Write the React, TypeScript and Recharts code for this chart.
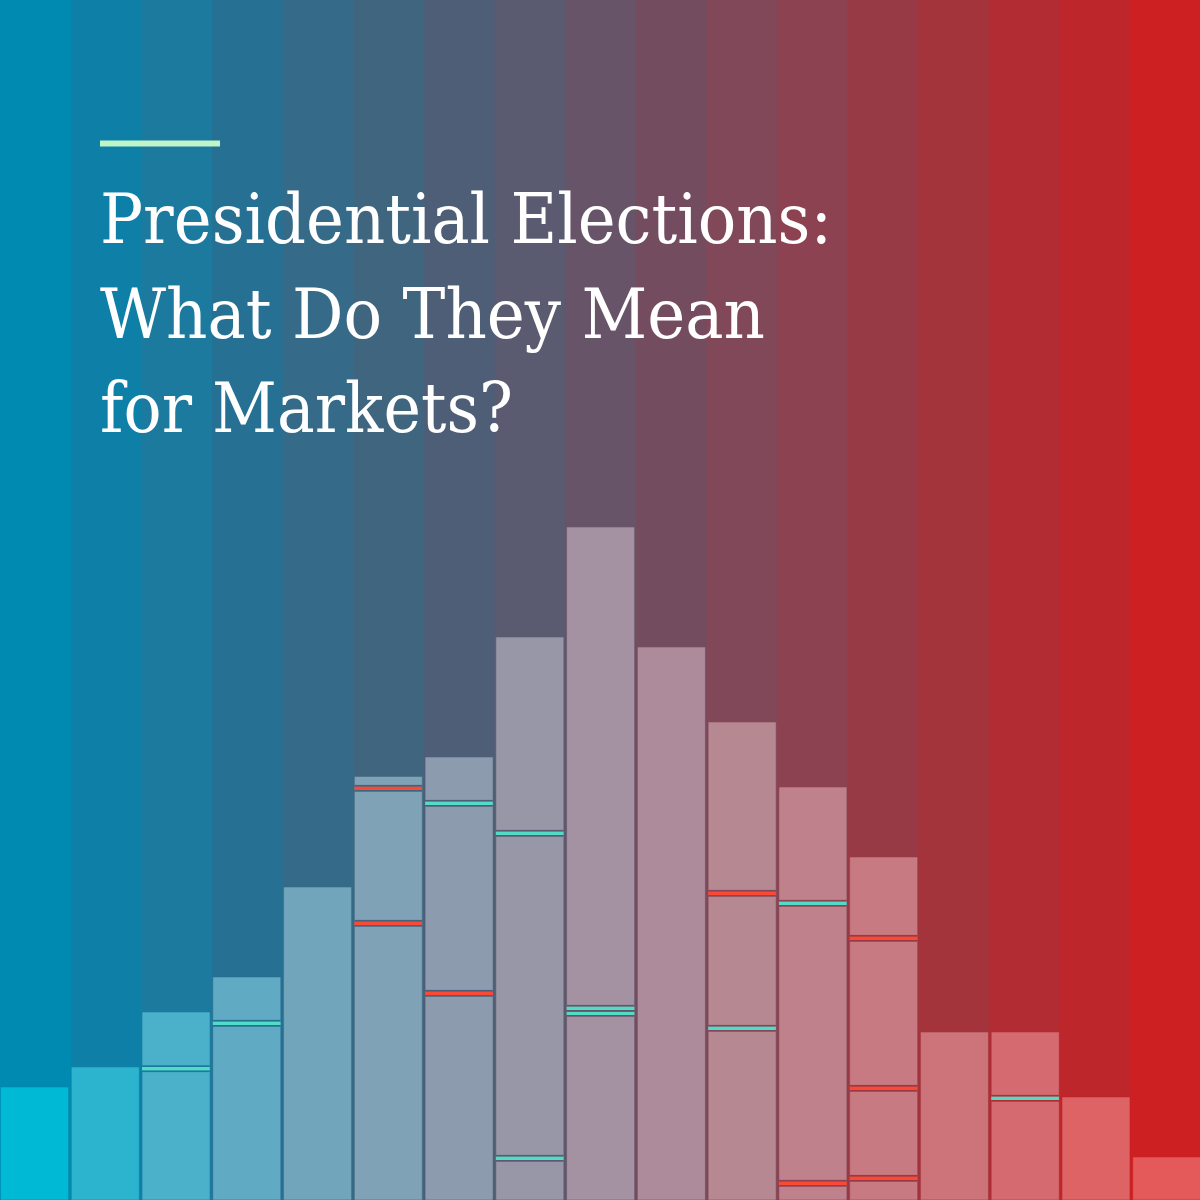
import React from "react";
import { ComposedChart, Bar, Scatter, XAxis, YAxis, Cell, ReferenceArea } from "recharts";

// ---- data ----
const bins = ["1", "2", "3", "4", "5", "6", "7", "8", "9", "10", "11", "12", "13", "14", "15", "16", "17"];
const binHeights = [11.3, 13.3, 18.8, 22.3, 31.3, 42.35, 44.3, 56.3, 67.3, 55.3, 47.8, 41.3, 34.3, 16.8, 16.8, 10.3, 4.3];

// marker lines inside the bars (value, party: D = cyan, R = red)
const marker1 = [null, null, 13.13, 17.67, null, 27.67, 20.67, 4.17, 18.67, null, 17.17, 1.67, 2.17, null, 10.17, null, null];
const party1 = ["", "", "D", "D", "", "R", "R", "D", "D", "", "D", "R", "R", "", "D", "", ""];
const marker2 = [null, null, null, null, null, 41.17, 39.67, 36.67, 19.17, null, 30.67, 29.67, 11.17, null, null, null, null];
const party2 = ["", "", "", "", "", "R", "D", "D", "D", "", "R", "D", "R", "", "", "", ""];
const marker3 = [null, null, null, null, null, null, null, null, null, null, null, null, 26.17, null, null, null, null];
const party3 = ["", "", "", "", "", "", "", "", "", "", "", "", "R", "", "", "", ""];

const titleLines = ["Presidential Elections:", "What Do They Mean", "for Markets?"];

// ---- styles ----
const stripeColors = [
  "#0089B1", "#0E80A8", "#1B7A9E", "#267093", "#356B88", "#40667F", "#4E5E77", "#5A5A70", "#675468",
  "#744C5F", "#804858", "#8C4250", "#983A45", "#A3343C", "#B22C33", "#BD262A", "#CC2022",
];
const barColors = [
  "#00B9D4", "#2CB4CF", "#4BB0C9", "#60AAC3", "#71A5BC", "#7FA2B6", "#8C9CAE", "#9797A8", "#A492A3",
  "#AD8B9B", "#B68892", "#BF818B", "#C77A82", "#CD737A", "#D56B70", "#DD6365", "#E45959",
];
const CYAN = "#52DBC6";
const RED = "#FA4A35";
const BAR_W = 67.76;

const chartData = bins.map((bin, i) => ({
  bin,
  value: binHeights[i],
  m1: marker1[i],
  m2: marker2[i],
  m3: marker3[i],
}));

const makeMarker = (parties: string[], key: string) => (props: any) => {
  const { cx, cy, payload } = props;
  if (!payload || payload[key] == null || cy == null || isNaN(cy) || cx == null || isNaN(cx)) return <g />;
  const idx = bins.indexOf(payload.bin);
  const x = cx - BAR_W / 2;
  return (
    <g>
      <rect x={x} y={cy - 3.4} width={BAR_W} height={6.8} fill={stripeColors[idx]} />
      <rect x={x} y={cy - 1.7} width={BAR_W} height={3.4} fill={parties[idx] === "D" ? CYAN : RED} />
    </g>
  );
};

const titleFont = "'DejaVu Serif', serif";

export default function App() {
  return (
    <div
      style={{
        position: "relative",
        width: 1200,
        height: 1200,
        overflow: "hidden",
        background: `linear-gradient(to right, ${stripeColors[0]}, ${stripeColors[16]})`,
      }}
    >
      <style>{"body{margin:0;}"}</style>
      <div style={{ position: "absolute", left: -1.5, top: 0 }}>
        <ComposedChart
          width={1203}
          height={1200}
          data={chartData}
          margin={{ top: 0, right: 0, bottom: 0, left: 0 }}
          barCategoryGap={1.5}
        >
          <XAxis xAxisId="bg" dataKey="bin" hide padding={{ left: 1.5, right: 1.5 }} allowDuplicatedCategory={false} />
          <XAxis xAxisId="fg" dataKey="bin" hide allowDuplicatedCategory={false} />
          <YAxis domain={[0, 120]} hide />
          {bins.map((b, i) => (
            <ReferenceArea
              key={"s" + b}
              xAxisId="bg"
              x1={b}
              x2={i < bins.length - 1 ? bins[i + 1] : b}
              y1={0}
              y2={120}
              fill={stripeColors[i]}
              fillOpacity={1}
              stroke="none"
              zIndex={-10}
            />
          ))}
          <Bar xAxisId="fg" dataKey="value" isAnimationActive={false}>
            {chartData.map((d, i) => (
              <Cell key={d.bin} fill={barColors[i]} stroke={stripeColors[i]} strokeOpacity={0.55} strokeWidth={1} />
            ))}
          </Bar>
          <Scatter xAxisId="fg" dataKey="m1" isAnimationActive={false} shape={makeMarker(party1, "m1")} />
          <Scatter xAxisId="fg" dataKey="m2" isAnimationActive={false} shape={makeMarker(party2, "m2")} />
          <Scatter xAxisId="fg" dataKey="m3" isAnimationActive={false} shape={makeMarker(party3, "m3")} />
        </ComposedChart>
      </div>
      <svg
        width={1200}
        height={1200}
        style={{ position: "absolute", left: 0, top: 0, pointerEvents: "none" }}
      >
        <rect x={100} y={140.5} width={120} height={6} fill="#BFF5C9" />
        <text x={100} y={243} fill="#FFFFFF" fontFamily={titleFont} fontSize={70} textLength={732} lengthAdjust="spacingAndGlyphs">
          {titleLines[0]}
        </text>
        <text x={100} y={338} fill="#FFFFFF" fontFamily={titleFont} fontSize={70} textLength={665} lengthAdjust="spacingAndGlyphs">
          {titleLines[1]}
        </text>
        <text x={100} y={432} fill="#FFFFFF" fontFamily={titleFont} fontSize={70} textLength={413} lengthAdjust="spacingAndGlyphs">
          {titleLines[2]}
        </text>
      </svg>
    </div>
  );
}
